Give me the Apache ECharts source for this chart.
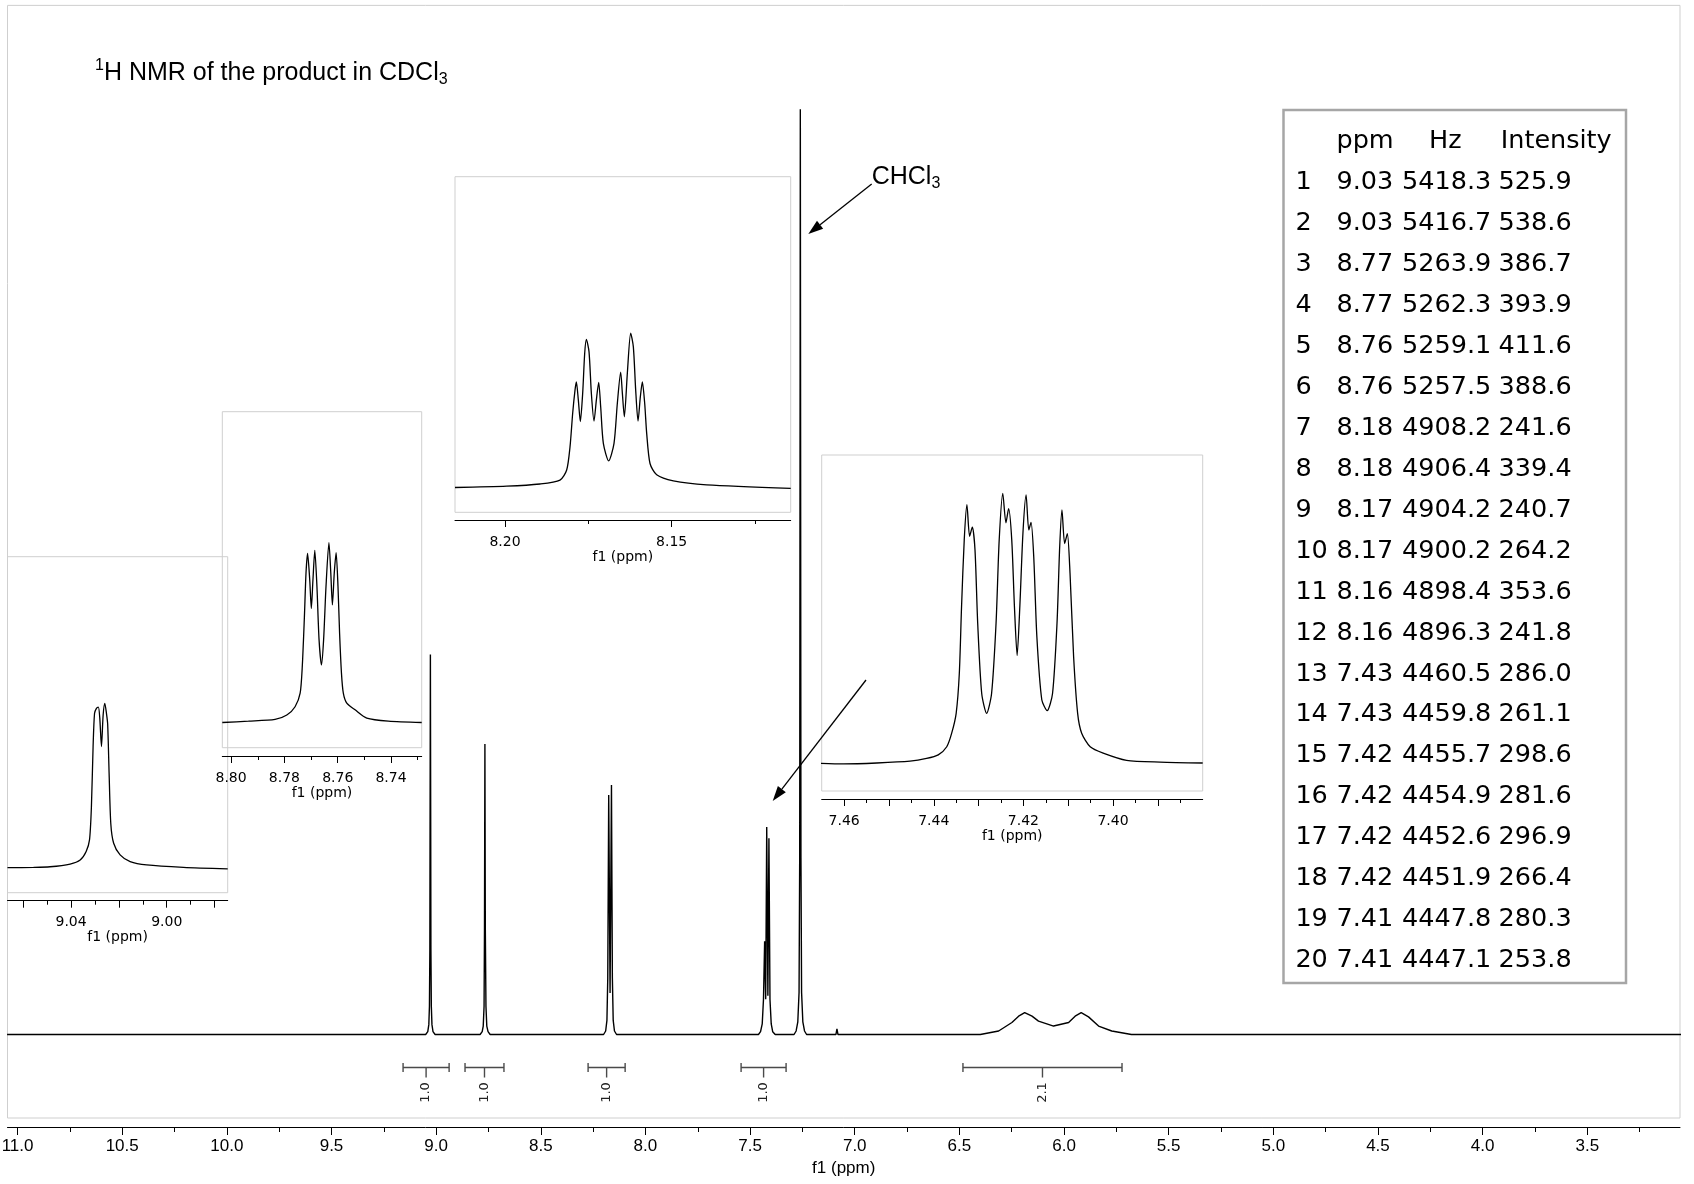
<!DOCTYPE html>
<html>
<head>
<meta charset="utf-8">
<title>1H NMR of the product in CDCl3</title>
<script src="https://cdn.jsdelivr.net/npm/echarts@6/dist/echarts.min.js"></script>
<style>
  html, body { margin: 0; padding: 0; background: #fff; }
  #chart { width: 1694px; height: 1184px; }
</style>
</head>
<body>
<div id="chart"></div>
<script>
// full spectrum, [ppm, intensity]
var mainSpectrum = [
  [11.05, 0], [9.05, 0], [9.04, 4], [9.035, 14], [9.032, 40], [9.03, 120], [9.029, 300], [9.0275, 538.6],
  [9.026, 300], [9.025, 120], [9.023, 40], [9.02, 14], [9.015, 4], [9.005, 0],
  [8.79, 0], [8.78, 4], [8.775, 12], [8.771, 40], [8.769, 150], [8.767, 411.6], [8.765, 150],
  [8.762, 40], [8.758, 12], [8.752, 4], [8.742, 0],
  [8.20, 0], [8.19, 5], [8.184, 20], [8.18, 80], [8.1755, 339.4], [8.169, 59], [8.1623, 353.6],
  [8.158, 80], [8.154, 20], [8.148, 5], [8.138, 0],
  [7.46, 0], [7.45, 4], [7.442, 15], [7.436, 50], [7.4305, 132], [7.4255, 50], [7.4205, 294],
  [7.415, 55], [7.41, 278], [7.405, 50], [7.399, 15], [7.392, 4], [7.38, 0],
  [7.29, 0], [7.28, 5], [7.272, 18], [7.266, 60], [7.263, 250], [7.26, 1311], [7.257, 250],
  [7.254, 60], [7.248, 18], [7.24, 5], [7.23, 0],
  [7.09, 0], [7.085, 8], [7.08, 0],
  [6.40, 0], [6.3125, 5], [6.249, 17], [6.217, 26], [6.188, 31], [6.153, 26], [6.122, 19], [6.05, 12],
  [5.978, 17], [5.947, 26], [5.918, 31], [5.883, 25], [5.835, 12], [5.772, 5], [5.678, 0],
  [3.05, 0]
];

// zoomed insets
var inset903 = [
  [9.0666, 0], [9.0557, 1], [9.0488, 3], [9.0404, 12], [9.0362, 25], [9.0337, 53], [9.0323, 91],
  [9.0315, 200], [9.0308, 397], [9.0302, 505], [9.0294, 522], [9.0286, 525.9], [9.028, 490],
  [9.0273, 397], [9.0266, 500], [9.0259, 538.6], [9.0252, 505], [9.0247, 470], [9.0241, 309],
  [9.0234, 145], [9.0222, 80], [9.0195, 42], [9.0153, 20], [9.0084, 9], [8.993, 1], [8.9745, -4]
];
var inset877 = [
  [8.8033, 0], [8.7935, 3], [8.7835, 7], [8.7791, 17], [8.776, 36], [8.7741, 67], [8.7733, 128],
  [8.7725, 242], [8.7719, 342], [8.7713, 386.7], [8.7705, 326], [8.7699, 261], [8.7693, 326],
  [8.7686, 393.9], [8.7678, 311], [8.767, 189], [8.7661, 132], [8.7653, 189], [8.7644, 311],
  [8.7633, 411.6], [8.7626, 342], [8.762, 269], [8.7613, 342], [8.7606, 388.6], [8.7599, 311],
  [8.7593, 204], [8.7586, 113], [8.7579, 67], [8.7566, 44], [8.7535, 29], [8.7491, 10],
  [8.741, 3], [8.7285, 0]
];
var inset817 = [
  [8.215, 0], [8.1995, 3], [8.1895, 8], [8.1835, 17], [8.1815, 40], [8.1805, 93], [8.1797, 170],
  [8.179, 223], [8.1786, 241.6], [8.178, 200], [8.1774, 151], [8.1767, 216], [8.1761, 307],
  [8.1756, 339.4], [8.1748, 311], [8.1741, 216], [8.1733, 152], [8.1726, 200], [8.1719, 240.7],
  [8.1713, 185], [8.1705, 101], [8.1689, 61], [8.1673, 101], [8.1663, 193], [8.1653, 264.2],
  [8.1648, 216], [8.1642, 162], [8.1633, 262], [8.1623, 353.6], [8.1615, 322], [8.1608, 223],
  [8.1601, 152], [8.1594, 208], [8.1588, 241.8], [8.1581, 193], [8.1575, 124], [8.1565, 55],
  [8.1545, 29], [8.1495, 15], [8.1395, 6], [8.1143, -2]
];
var inset742 = [
  [7.4672, 0], [7.4601, -1], [7.4527, 0], [7.4453, 2], [7.4416, 5], [7.439, 9], [7.4371, 18],
  [7.436, 33], [7.435, 55], [7.4343, 99], [7.4338, 173], [7.4332, 247], [7.4326, 286.0],
  [7.432, 251], [7.4314, 261.1], [7.4308, 236], [7.4302, 155], [7.4293, 77], [7.4282, 55],
  [7.4271, 77], [7.4261, 155], [7.4254, 247], [7.4246, 298.6], [7.4239, 266], [7.4233, 281.6],
  [7.4226, 247], [7.422, 173], [7.4214, 119], [7.4208, 173], [7.4201, 255], [7.4194, 296.9],
  [7.4188, 258], [7.4183, 266.4], [7.4177, 229], [7.417, 140], [7.4159, 70], [7.4147, 58],
  [7.4135, 77], [7.4125, 155], [7.4119, 240], [7.4114, 280.3], [7.4108, 243], [7.4102, 253.8],
  [7.4096, 210], [7.4088, 118], [7.4079, 55], [7.407, 33], [7.4051, 18], [7.4022, 11],
  [7.397, 3], [7.3895, 1], [7.38, 0]
];

// integrals
var integralFrom = [9.158, 8.862, 8.274, 7.543, 6.483];
var integralTo = [8.938, 8.676, 8.097, 7.328, 5.723];
var integralValue = [1.0, 1.0, 1.0, 1.0, 2.1];

// peak table
var peakPpm = ['9.03', '9.03', '8.77', '8.77', '8.76', '8.76', '8.18', '8.18', '8.17', '8.17',
  '8.16', '8.16', '7.43', '7.43', '7.42', '7.42', '7.42', '7.42', '7.41', '7.41'];
var peakHz = ['5418.3', '5416.7', '5263.9', '5262.3', '5259.1', '5257.5', '4908.2', '4906.4', '4904.2', '4900.2',
  '4898.4', '4896.3', '4460.5', '4459.8', '4455.7', '4454.9', '4452.6', '4451.9', '4447.8', '4447.1'];
var peakIntensity = ['525.9', '538.6', '386.7', '393.9', '411.6', '388.6', '241.6', '339.4', '240.7', '264.2',
  '353.6', '241.8', '286.0', '261.1', '298.6', '281.6', '296.9', '266.4', '280.3', '253.8'];

// tick labels
var mainTicks = [11.0, 10.5, 10.0, 9.5, 9.0, 8.5, 8.0, 7.5, 7.0, 6.5, 6.0, 5.5, 5.0, 4.5, 4.0, 3.5];
var mainMinor = [10.75, 10.25, 9.75, 9.25, 8.75, 8.25, 7.75, 7.25, 6.75, 6.25, 5.75, 5.25, 4.75, 4.25, 3.75, 3.25];
var ticks903 = [9.06, 9.04, 9.02, 9.00, 8.98], labels903 = [9.04, 9.00], minor903 = [9.05, 9.03, 9.01, 8.99];
var ticks877 = [8.80, 8.78, 8.76, 8.74], labels877 = [8.80, 8.78, 8.76, 8.74], minor877 = [8.79, 8.77, 8.75, 8.73];
var ticks817 = [8.20, 8.15], labels817 = [8.20, 8.15], minor817 = [8.175, 8.125];
var ticks742 = [7.46, 7.45, 7.44, 7.43, 7.42, 7.41, 7.40, 7.39], labels742 = [7.46, 7.44, 7.42, 7.40],
    minor742 = [7.455, 7.445, 7.435, 7.425, 7.415, 7.405, 7.395, 7.385];

var SANS = "'Liberation Sans', Arial, sans-serif";
var DEJAVU = "'DejaVu Sans', Verdana, sans-serif";
var AXISFONT = "'Liberation Sans Narrow', 'Liberation Sans', Arial, sans-serif";

var chart = echarts.init(document.getElementById('chart'));

function insetAxes(gi, min, max, ticks, labels, minor, offset) {
  var base = {
    type: 'value', gridIndex: gi, min: min, max: max, inverse: true, position: 'bottom', offset: offset,
    splitLine: { show: false }
  };
  return [
    Object.assign({}, base, {
      name: 'f1 (ppm)', nameLocation: 'middle', nameGap: 29,
      nameTextStyle: { fontFamily: DEJAVU, fontSize: 14, color: '#000' },
      axisLine: { onZero: false, lineStyle: { color: '#000', width: 1 } },
      axisTick: { customValues: ticks, length: 7, lineStyle: { color: '#000' } },
      axisLabel: { customValues: labels, margin: 15, fontFamily: DEJAVU, fontSize: 14, color: '#000',
        formatter: function (v) { return v.toFixed(2); } }
    }),
    Object.assign({}, base, {
      axisLine: { show: false, onZero: false },
      axisTick: { customValues: minor, length: 4, lineStyle: { color: '#000' } },
      axisLabel: { show: false }
    })
  ];
}

function lineSeries(xi, yi, data, width, smooth) {
  return {
    type: 'line', xAxisIndex: xi, yAxisIndex: yi, data: data, showSymbol: false, symbol: 'none',
    smooth: smooth, lineStyle: { color: '#000', width: width }, silent: true, z: 3
  };
}

var frame = { show: true, borderColor: '#cfcfcf', borderWidth: 1, backgroundColor: 'transparent',
  containLabel: false, outerBoundsMode: 'none' };

var xAxes = [
  {
    type: 'value', gridIndex: 0, min: 3.057, max: 11.048, inverse: true, position: 'bottom', offset: 9,
    name: 'f1 (ppm)', nameLocation: 'middle', nameGap: 26,
    nameTextStyle: { fontFamily: AXISFONT, fontSize: 17, color: '#000' },
    splitLine: { show: false },
    axisLine: { onZero: false, lineStyle: { color: '#000', width: 1 } },
    axisTick: { customValues: mainTicks, length: 8, lineStyle: { color: '#000' } },
    axisLabel: { customValues: mainTicks, margin: 11, fontFamily: AXISFONT, fontSize: 17, color: '#000',
      formatter: function (v) { return v.toFixed(1); } }
  },
  {
    type: 'value', gridIndex: 0, min: 3.057, max: 11.048, inverse: true, position: 'bottom', offset: 9,
    splitLine: { show: false }, axisLine: { show: false, onZero: false },
    axisTick: { customValues: mainMinor, length: 5, lineStyle: { color: '#000' } },
    axisLabel: { show: false }
  }
].concat(
  insetAxes(1, 8.9745, 9.0666, ticks903, labels903, minor903, 8),
  insetAxes(2, 8.7285, 8.8033, ticks877, labels877, minor877, 8.3),
  insetAxes(3, 8.1143, 8.215, ticks817, labels817, minor817, 7.7),
  insetAxes(4, 7.38, 7.465, ticks742, labels742, minor742, 8)
);

var yAxes = [
  { type: 'value', gridIndex: 0, min: -118.3, max: 1458.3, show: false },
  { type: 'value', gridIndex: 1, min: -82, max: 1019, show: false },
  { type: 'value', gridIndex: 2, min: -57.7, max: 711, show: false },
  { type: 'value', gridIndex: 3, min: -56.8, max: 711.7, show: false },
  { type: 'value', gridIndex: 4, min: -31, max: 341, show: false }
];

var grids = [
  Object.assign({ left: 7.5, top: 5.4, width: 1672.5, height: 1112.6 }, frame),
  Object.assign({ left: 7.5, top: 556.7, width: 220.2, height: 336 }, frame),
  Object.assign({ left: 222.3, top: 411.7, width: 199.4, height: 336 }, frame),
  Object.assign({ left: 455, top: 176.7, width: 335.7, height: 335.6 }, frame),
  Object.assign({ left: 821.7, top: 455, width: 381, height: 336 }, frame)
];

var integralData = integralFrom.map(function (f, i) { return [f, integralTo[i], integralValue[i]]; });

function renderIntegral(params, api) {
  var a = api.coord([api.value(0), 0]);
  var b = api.coord([api.value(1), 0]);
  var y = a[1] + 33;
  var mid = (a[0] + b[0]) / 2;
  var st = { stroke: '#4a4a4a', lineWidth: 1.4 };
  return {
    type: 'group',
    children: [
      { type: 'line', shape: { x1: a[0], y1: y, x2: b[0], y2: y }, style: st },
      { type: 'line', shape: { x1: a[0], y1: y - 4.5, x2: a[0], y2: y + 4.5 }, style: st },
      { type: 'line', shape: { x1: b[0], y1: y - 4.5, x2: b[0], y2: y + 4.5 }, style: st },
      { type: 'line', shape: { x1: mid, y1: y, x2: mid, y2: y + 10 }, style: st },
      {
        type: 'text', x: mid, y: y + 25, rotation: Math.PI / 2,
        style: { text: api.value(2).toFixed(1), fontFamily: DEJAVU, fontSize: 13, fill: '#222',
          align: 'center', verticalAlign: 'middle' }
      }
    ]
  };
}

function arrow(x1, y1, x2, y2) {
  var dx = x1 - x2, dy = y1 - y2, len = Math.sqrt(dx * dx + dy * dy);
  var ux = dx / len, uy = dy / len, hl = 15, hw = 5;
  var bx = x2 + ux * hl, by = y2 + uy * hl;
  return [
    { type: 'line', shape: { x1: x1, y1: y1, x2: bx, y2: by }, style: { stroke: '#000', lineWidth: 1.3 } },
    { type: 'polygon', shape: { points: [[x2, y2], [bx + uy * hw, by - ux * hw], [bx - uy * hw, by + ux * hw]] },
      style: { fill: '#000' } }
  ];
}

var graphics = [
  {
    type: 'text', x: 95, y: 73,
    style: {
      text: '{sup|1}{main|H NMR of the product in CDCl}{sub|3}',
      verticalAlign: 'middle',
      rich: {
        main: { fontFamily: SANS, fontSize: 25, lineHeight: 30, fill: '#000' },
        sup: { fontFamily: SANS, fontSize: 16, lineHeight: 18, verticalAlign: 'top', fill: '#000' },
        sub: { fontFamily: SANS, fontSize: 16, lineHeight: 20, verticalAlign: 'bottom', fill: '#000' }
      }
    }
  },
  {
    type: 'text', x: 871.7, y: 177,
    style: {
      text: '{main|CHCl}{sub|3}',
      verticalAlign: 'middle',
      rich: {
        main: { fontFamily: SANS, fontSize: 25, lineHeight: 30, fill: '#000' },
        sub: { fontFamily: SANS, fontSize: 16, lineHeight: 20, verticalAlign: 'bottom', fill: '#000' }
      }
    }
  },
  {
    type: 'rect', shape: { x: 1283.5, y: 110, width: 342.5, height: 873 },
    style: { fill: 'transparent', stroke: '#a6a6a6', lineWidth: 2.5 }
  }
].concat(arrow(871.7, 184, 808.3, 234), arrow(866, 680, 772.7, 801));

// peak table texts
var colX = [1295.4, 1336.5, 1402, 1498.6];
var tableFont = { fontFamily: DEJAVU, fontSize: 25.5, fill: '#000', verticalAlign: 'middle' };
[['ppm', 1336.5], ['Hz', 1429], ['Intensity', 1500.7]].forEach(function (h) {
  graphics.push({ type: 'text', x: h[1], y: 141.6, style: Object.assign({ text: h[0] }, tableFont) });
});
peakPpm.forEach(function (p, i) {
  var y = 182.6 + i * 40.94;
  var cells = [String(i + 1), p, peakHz[i], peakIntensity[i]];
  cells.forEach(function (c, j) {
    graphics.push({ type: 'text', x: colX[j], y: y, style: Object.assign({ text: c }, tableFont) });
  });
});

chart.setOption({
  animation: false,
  backgroundColor: '#fff',
  grid: grids,
  xAxis: xAxes,
  yAxis: yAxes,
  series: [
    lineSeries(0, 0, mainSpectrum, 1.4, false),
    lineSeries(2, 1, inset903, 1.3, 0.25),
    lineSeries(4, 2, inset877, 1.3, 0.25),
    lineSeries(6, 3, inset817, 1.3, 0.25),
    lineSeries(8, 4, inset742, 1.3, 0.25),
    {
      type: 'custom', xAxisIndex: 0, yAxisIndex: 0, data: integralData,
      encode: { x: [0, 1] }, renderItem: renderIntegral, silent: true, clip: false
    }
  ],
  graphic: graphics
});
</script>
</body>
</html>
